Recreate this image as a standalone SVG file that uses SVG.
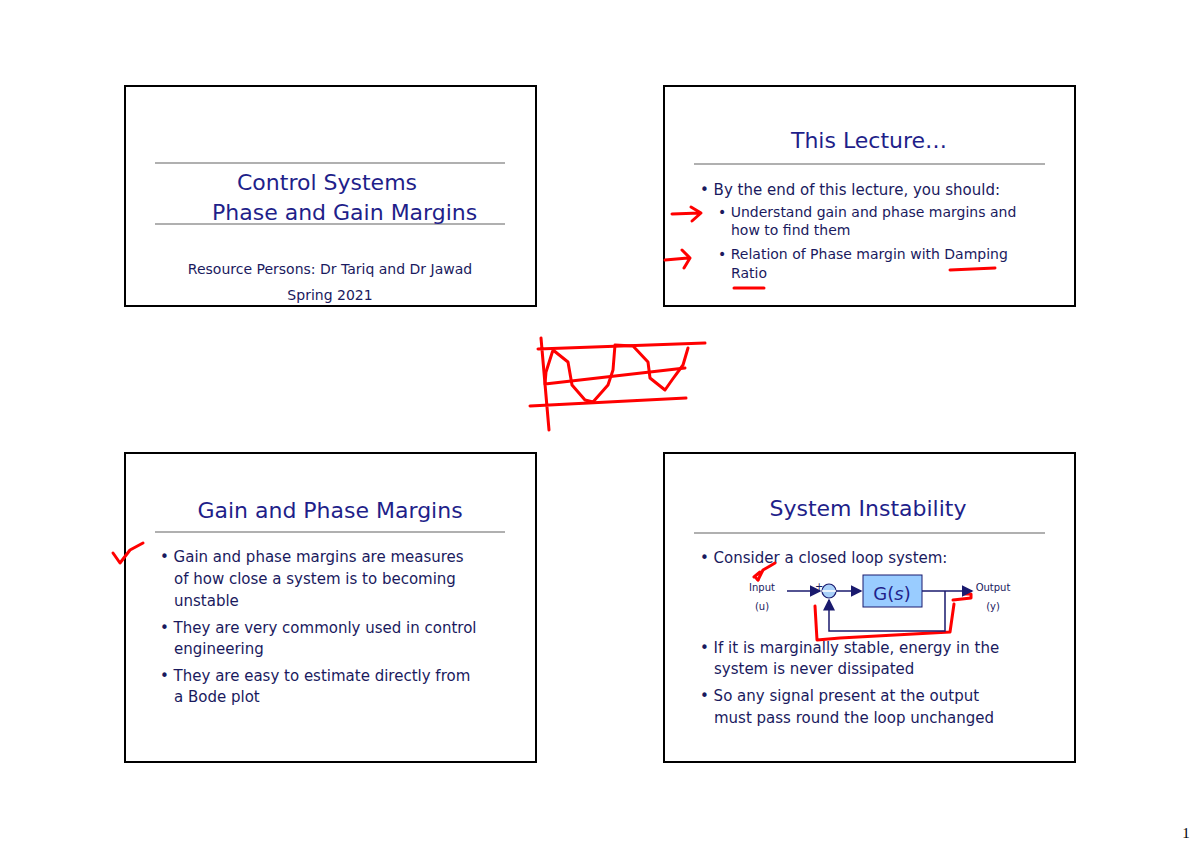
<svg xmlns="http://www.w3.org/2000/svg" width="1200" height="848" viewBox="0 0 1200 848">
<style>
.slide{fill:#fff;stroke:#000;stroke-width:2}
.rule{stroke:#b0b0b0;stroke-width:2}
.t{font-family:"DejaVu Sans",Verdana,sans-serif;fill:#1f1f8a}
.b{font-family:"DejaVu Sans",Verdana,sans-serif;fill:#1a1a5e;font-size:15px}
.s{font-family:"DejaVu Sans",Verdana,sans-serif;fill:#1a1a5e;font-size:14px}
.sm{font-family:"DejaVu Sans",Verdana,sans-serif;fill:#1a1a5e;font-size:10px}
.red{fill:none;stroke:#f00;stroke-width:3;stroke-linecap:round;stroke-linejoin:round}
.ln{fill:none;stroke:#1a1a6e;stroke-width:1.5}
</style>
<defs><marker id="a" markerWidth="8" markerHeight="8" refX="7" refY="4" orient="auto"><path d="M0,0L8,4L0,8z" fill="#1a1a6e"/></marker></defs>
<rect width="1200" height="848" fill="#fff"/>
<g id="slide1">
<rect class="slide" x="125" y="86" width="411" height="220"/>
<line class="rule" x1="155" y1="163" x2="505" y2="163"/>
<line class="rule" x1="155" y1="224" x2="505" y2="224"/>
<text class="t" x="237" y="190" font-size="22">Control  Systems</text>
<text class="t" x="212" y="220" font-size="22">Phase and Gain Margins</text>
<text class="s" x="330" y="274" text-anchor="middle" font-size="15">Resource Persons: Dr Tariq and Dr Jawad</text>
<text class="s" x="330" y="300" text-anchor="middle" font-size="15">Spring 2021</text>
</g>
<g id="slide2">
<rect class="slide" x="664" y="86" width="411" height="220"/>
<line class="rule" x1="694" y1="164" x2="1045" y2="164"/>
<text class="t" x="869" y="148" text-anchor="middle" font-size="22">This Lecture…</text>
<text class="b" x="700" y="195">• By the end of this lecture, you should:</text>
<text class="s" x="718" y="217">• Understand gain and phase margins and</text>
<text class="s" x="731" y="235">how to find them</text>
<text class="s" x="718" y="259">• Relation of Phase margin with Damping</text>
<text class="s" x="731" y="278">Ratio</text>
<path class="red" d="M672,214 L700,213 M691,207 L701,213 L692,221"/>
<path class="red" d="M665,260 L688,258 M682,250 L690,258 L684,268"/>
<path class="red" d="M734,288 L764,288 M950,270 L995,268"/>
</g>
<g id="scribble">
<path class="red" d="M538,349 L705,343 M541,338 L549,430 M545,384 L685,368 M530,406 L686,398"/>
<path class="red" d="M553,350 L568,362 L572,385 L585,400 L593,402 L608,385 L613,370 L615,345 L633,346 L648,362 L650,378 L665,390 L672,380 L683,365 L688,348 M553,350 L546,372 L545,384"/>
</g>
<g id="slide3">
<rect class="slide" x="125" y="453" width="411" height="309"/>
<line class="rule" x1="155" y1="532" x2="505" y2="532"/>
<text class="t" x="330" y="518" text-anchor="middle" font-size="22">Gain and Phase Margins</text>
<text class="b" x="160" y="562">• Gain and phase margins are measures</text>
<text class="b" x="174" y="584">of how close a system is to becoming</text>
<text class="b" x="174" y="606">unstable</text>
<text class="b" x="160" y="633">• They are very commonly used in control</text>
<text class="b" x="174" y="654">engineering</text>
<text class="b" x="160" y="681">• They are easy to estimate directly from</text>
<text class="b" x="174" y="702">a Bode plot</text>
<path class="red" d="M113,553 L120,563 L130,550 L143,543"/>
</g>
<g id="slide4">
<rect class="slide" x="664" y="453" width="411" height="309"/>
<line class="rule" x1="694" y1="533" x2="1045" y2="533"/>
<text class="t" x="868" y="516" text-anchor="middle" font-size="22">System Instability</text>
<text class="b" x="700" y="563">• Consider a closed loop system:</text>
<text class="sm" x="762" y="591" text-anchor="middle">Input</text>
<text class="sm" x="762" y="610" text-anchor="middle">(u)</text>
<text class="sm" x="993" y="591" text-anchor="middle">Output</text>
<text class="sm" x="993" y="610" text-anchor="middle">(y)</text>
<g id="sum"><circle cx="829" cy="591" r="7" fill="#a8d0f8" stroke="#1a1a6e" stroke-width="1.2"/><line x1="822" y1="591" x2="836" y2="591" stroke="#fff" stroke-width="1.5"/></g>
<g id="G"><rect x="863" y="575" width="59" height="32" fill="#99ccff" stroke="#1a1a6e" stroke-width="1"/><text class="t" x="892" y="600" text-anchor="middle" font-size="18" fill="#1a1a5e">G(<tspan font-style="italic">s</tspan>)</text></g>
<text class="sm" x="815" y="590">+</text>
<path class="red" d="M754,577 L760,572 M758,580 L763,570 L770,566 L775,563"/>
<path class="red" d="M815,606 L817,640 L840,638 L950,632 L954,604 M953,600 L971,598 L971,594 L965,594"/>
<path class="red" d="M756,578 L758,580"/>
<path class="text" d=""/>
<text class="b" x="700" y="653">• If it is marginally stable, energy in the</text>
<text class="b" x="714" y="674">system is never dissipated</text>
<text class="b" x="700" y="701">• So any signal present at the output</text>
<text class="b" x="714" y="723">must pass round the loop unchanged</text>
</g>
<g id="connectors">
<line class="ln" x1="787" y1="591" x2="820" y2="591" marker-end="url(#a)"/>
<line class="ln" x1="836" y1="591" x2="861" y2="591" marker-end="url(#a)"/>
<line class="ln" x1="922" y1="591" x2="972" y2="591" marker-end="url(#a)"/>
<path class="ln" d="M945,591 V631 H829 V600" marker-end="url(#a)"/>
</g>
<text x="1186" y="838" font-family="Liberation Serif,serif" font-size="15" text-anchor="middle">1</text>
</svg>
